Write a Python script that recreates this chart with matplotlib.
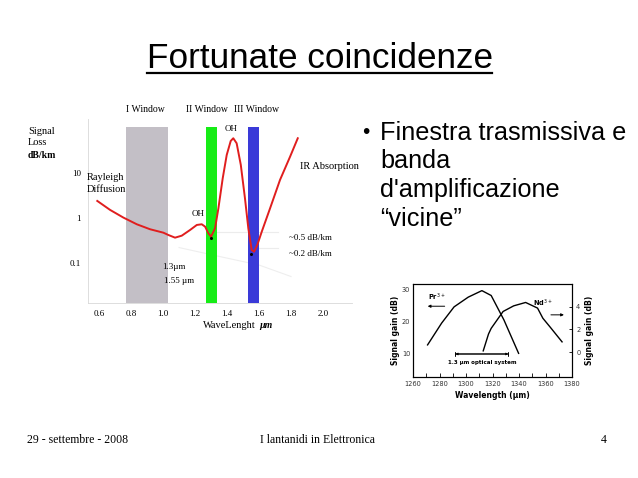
import matplotlib
matplotlib.use("Agg")
import matplotlib.pyplot as plt
from matplotlib.lines import Line2D

# fibre attenuation curve (wavelength in um, loss in dB/km)
loss_wl = [0.589, 0.669, 0.752, 0.836, 0.919, 1.002, 1.033, 1.075, 1.117, 1.169,
           1.211, 1.242, 1.263, 1.283, 1.300, 1.325, 1.346, 1.373, 1.398, 1.423,
           1.439, 1.460, 1.486, 1.512, 1.533, 1.554, 1.569, 1.589, 1.617, 1.669,
           1.731, 1.794, 1.842]
loss_db = [2.39, 1.51, 1.02, 0.724, 0.561, 0.471, 0.419, 0.365, 0.404, 0.541,
           0.699, 0.724, 0.641, 0.457, 0.384, 0.59, 1.64, 7.62, 25.1, 51.4,
           59.0, 45.7, 15.1, 2.74, 0.59, 0.194, 0.178, 0.251, 0.496, 1.64,
           6.99, 23.0, 59.0]

# transmission windows (um)
window_names = ["I Window", "II Window", "III Window"]
window_lo = [0.77, 1.27, 1.53]
window_hi = [1.03, 1.34, 1.60]
window_colors = ["#c3bfc6", "#16ec16", "#3a3ad8"]
window_top = 105

loss_xticks = [0.6, 0.8, 1.0, 1.2, 1.4, 1.6, 1.8, 2.0]
loss_yticks = [0.1, 1, 10]
loss_ylabels = ["0.1", "1", "10"]

# amplifier gain curves (wavelength nm)
pr_wl = [1271, 1281.6, 1291, 1301.7, 1312, 1319, 1328.6, 1339.7]
pr_gain = [12.8, 19.5, 24.5, 27.5, 29.5, 28.0, 20.5, 10.2]
nd_wl = [1313, 1317, 1319, 1328, 1336, 1345, 1354, 1358, 1363.6, 1372.5]
nd_gain = [0.1, 1.6, 2.1, 3.6, 4.1, 4.4, 3.9, 3.0, 2.2, 0.9]
optical_system = (1292, 1332)
gain_xticks = [1260, 1280, 1300, 1320, 1340, 1360, 1380]

W, H = 638, 478


def px(x, y):
    return x / W, 1 - y / H


fig = plt.figure(figsize=(6.38, 4.78), dpi=100)
fig.patch.set_facecolor("white")

serif = "Liberation Serif"
sans = "Liberation Sans"

# title
fig.text(*px(320, 58), "Fortunate coincidenze", ha="center", va="center",
         fontsize=25.3, family=sans)
fig.add_artist(Line2D([147 / W, 492 / W], [1 - 73 / H, 1 - 73 / H],
                      color="black", lw=1.6))

# bullet text
fig.text(*px(362, 132), "\u2022", ha="left", va="center", fontsize=15, family=sans)
bullet_lines = ["Finestra trasmissiva e", "banda", "d'amplificazione", "\u201cvicine\u201d"]
for i, line in enumerate(bullet_lines):
    fig.text(*px(380, 133 + i * 28.5), line, ha="left", va="center",
             fontsize=18.2, family=sans)

# footer
fig.text(*px(27, 440), "29 - settembre - 2008", ha="left", va="center",
         fontsize=8.5, family=serif)
fig.text(*px(318, 440), "I lantanidi in Elettronica", ha="center", va="center",
         fontsize=8.5, family=serif)
fig.text(*px(604, 440), "4", ha="center", va="center", fontsize=8.5, family=serif)

# ---- attenuation chart ----
ax = fig.add_axes([88 / W, 1 - 303 / H, (352 - 88) / W, (303 - 119) / H])
ax.set_yscale("log")
ax.set_xlim(0.531, 2.181)
ax.set_ylim(0.0129, 158)
for s in ["top", "right"]:
    ax.spines[s].set_visible(False)
for s in ["left", "bottom"]:
    ax.spines[s].set_color("#d8d8d8")
    ax.spines[s].set_linewidth(0.6)
ax.set_xticks(loss_xticks)
ax.set_xticklabels([f"{v:.1f}" for v in loss_xticks], fontsize=6.5, family=serif)
ax.set_yticks(loss_yticks)
ax.set_yticklabels(loss_ylabels, fontsize=6.5, family=serif)
ax.yaxis.set_minor_locator(matplotlib.ticker.NullLocator())
ax.tick_params(length=0, pad=5)
ax.tick_params(axis="x", pad=5)
ax.patch.set_alpha(0)

for lo, hi, c in zip(window_lo, window_hi, window_colors):
    ax.fill_between([lo, hi], 0.0129, window_top, color=c, lw=0, zorder=1)

# faint leader lines as in the source picture
ax.plot([1.33, 1.72], [0.5, 0.5], color="#ececec", lw=0.8, zorder=0)
ax.plot([1.58, 1.72], [0.21, 0.21], color="#ececec", lw=0.8, zorder=0)
ax.plot([1.10, 1.35, 1.60, 1.80], [0.22, 0.14, 0.09, 0.05], color="#eeeeee", lw=0.8, zorder=0)

ax.plot(loss_wl, loss_db, color="#e01e1e", lw=1.4, zorder=3)
ax.plot([1.30, 1.55], [0.35, 0.16], ls="none", marker="o", ms=1.2, color="black", zorder=4)

for name, cx in zip(window_names, [145, 207, 257]):
    fig.text(*px(cx, 110), name, ha="center", va="center", fontsize=7, family=serif)

fig.text(*px(28, 131), "Signal", ha="left", va="center", fontsize=7.5, family=serif)
fig.text(*px(28, 143), "Loss", ha="left", va="center", fontsize=7.5, family=serif)
fig.text(*px(28, 155), "dB/km", ha="left", va="center", fontsize=7, family=serif,
         weight="bold")
fig.text(*px(87, 177), "Rayleigh", ha="left", va="center", fontsize=7.5, family=serif)
fig.text(*px(87, 189), "Diffusion", ha="left", va="center", fontsize=7.5, family=serif)
fig.text(*px(198, 214), "OH", ha="center", va="center", fontsize=6.5, family=serif)
fig.text(*px(231, 129), "OH", ha="center", va="center", fontsize=6.5, family=serif)
fig.text(*px(300, 166), "IR Absorption", ha="left", va="center", fontsize=7.5, family=serif)
fig.text(*px(289, 238), "~0.5 dB/km", ha="left", va="center", fontsize=6.5, family=serif)
fig.text(*px(289, 254), "~0.2 dB/km", ha="left", va="center", fontsize=6.5, family=serif)
fig.text(*px(162, 267), "1.3\u00b5m", ha="left", va="center", fontsize=6.5, family=serif)
fig.text(*px(164, 281), "1.55 \u00b5m", ha="left", va="center", fontsize=6.5, family=serif)
fig.text(*px(203, 326), "WaveLenght", ha="left", va="center", fontsize=7.5, family=serif)
fig.text(*px(259, 326), "\u00b5m", ha="left", va="center", fontsize=7, family=serif,
         weight="bold", style="italic")

# ---- gain chart ----
gx = fig.add_axes([413 / W, 1 - 377 / H, (572 - 413) / W, (377 - 284) / H])
gx.set_xlim(1260, 1380)
gx.set_ylim(2.92, 31.54)
gx.plot(pr_wl, pr_gain, color="black", lw=1.0)
gx.set_xticks(gain_xticks)
gx.set_xticks(range(1270, 1380, 20), minor=True)
gx.set_xticklabels([str(v) for v in gain_xticks], fontsize=4.8, color="#333333")
gx.set_yticks([10, 20, 30])
gx.set_yticklabels(["10", "20", "30"], fontsize=4.8, color="#333333")
gx.tick_params(axis="x", which="both", direction="in", length=3, width=0.6, pad=3)
gx.tick_params(axis="y", direction="in", length=0, pad=2)
for s in gx.spines.values():
    s.set_linewidth(0.8)
gx.set_xlabel("Wavelength (\u00b5m)", fontsize=5.5, weight="bold", labelpad=3)
gx.set_ylabel("Signal gain (dB)", fontsize=5.5, weight="bold", labelpad=1)

g2 = gx.twinx()
g2.set_ylim(-2.22, 6.04)
g2.plot(nd_wl, nd_gain, color="black", lw=1.0)
g2.set_yticks([0, 2, 4])
g2.set_yticklabels(["0", "2", "4"], fontsize=4.8, color="#333333")
g2.tick_params(axis="y", direction="in", length=2, width=0.6, pad=3)
g2.set_ylabel("Signal gain (dB)", fontsize=5.5, weight="bold", labelpad=3)

gx.text(1278, 27.3, "Pr$^{3+}$", fontsize=4.8, weight="bold", ha="center", va="center")
gx.annotate("", xy=(1269, 24.7), xytext=(1286, 24.7),
            arrowprops=dict(arrowstyle="-|>", lw=0.7, color="black",
                            mutation_scale=4))
g2.text(1358, 4.35, "Nd$^{3+}$", fontsize=4.8, weight="bold", ha="center", va="center")
g2.annotate("", xy=(1376, 3.3), xytext=(1362, 3.3),
            arrowprops=dict(arrowstyle="-|>", lw=0.7, color="black",
                            mutation_scale=4))
gx.annotate("", xy=(optical_system[0], 10), xytext=(optical_system[1], 10),
            arrowprops=dict(arrowstyle="|-|", lw=0.7, color="black",
                            mutation_scale=1.5, shrinkA=0, shrinkB=0))
gx.annotate("", xy=(optical_system[0], 10), xytext=(optical_system[1], 10),
            arrowprops=dict(arrowstyle="<|-|>", lw=0.7, color="black",
                            mutation_scale=3, shrinkA=0, shrinkB=0))
gx.text(sum(optical_system) / 2, 7.4, "1.3 \u00b5m optical system", fontsize=4,
        weight="bold", ha="center", va="center")

fig.savefig("out.png", dpi=100)
